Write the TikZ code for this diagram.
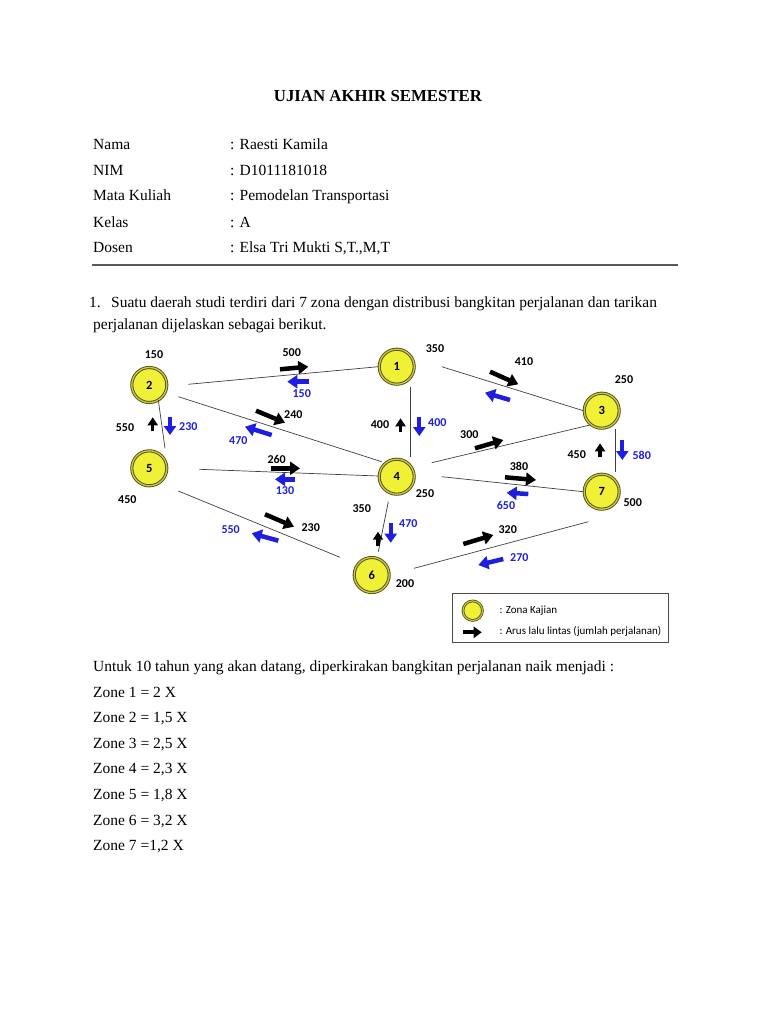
\documentclass[tikz,border=0pt]{standalone}
\usepackage{fontspec}
\setmainfont{Liberation Serif}
\newfontfamily\calib{Carlito}
\usetikzlibrary{arrows.meta}
\definecolor{zblue}{RGB}{30,30,225}
\definecolor{zyellow}{RGB}{240,240,55}
\definecolor{zring}{RGB}{80,80,25}
\definecolor{zband}{RGB}{200,200,70}
\begin{document}
\begin{tikzpicture}[x=1pt,y=-1pt,
  body/.style={anchor=base west, inner sep=0pt, font=\fontsize{15.5}{18}\selectfont},
  zone/.style={circle, fill=zyellow, draw=zring, line width=0.9pt, double=zband, double distance=1.3pt,
    minimum size=35pt, inner sep=0pt, font=\calib\bfseries\fontsize{12.5}{12}\selectfont},
  lnk/.style={line width=0.7pt, draw=black!75},
  num/.style={inner sep=0pt, font=\calib\bfseries\fontsize{12}{12}\selectfont},
  bnum/.style={num, text=zblue},
  karr/.style={line width=4.5pt, -{Triangle[length=10pt,width=13pt]}, draw=black},
  barr/.style={karr, draw=zblue},
  kup/.style={line width=3.5pt, -{Triangle[length=8pt,width=10pt]}, draw=black},
  bdown/.style={line width=4pt, -{Triangle[length=9pt,width=12pt]}, draw=zblue},
  leg/.style={anchor=west, inner sep=0pt, font=\calib\fontsize{11}{12}\selectfont}
]
\useasboundingbox[fill=white] (0,0) rectangle (768,1024);

% header
\node[body, anchor=base, font=\bfseries\fontsize{16.8}{19}\selectfont] (title) at (378,102) {UJIAN AKHIR SEMESTER};
\node[body] (l1) at (93,150) {Nama};
\node[body] (l2) at (93,176) {NIM};
\node[body] (l3) at (93,201) {Mata Kuliah};
\node[body] (l4) at (93,227) {Kelas};
\node[body] (l5) at (93,252) {Dosen};
\node[body] (v1) at (230,150) {: Raesti Kamila};
\node[body] (v2) at (230,176) {: D1011181018};
\node[body] (v3) at (230,201) {: Pemodelan Transportasi};
\node[body] (v4) at (230,227) {: A};
\node[body] (v5) at (230,252) {: Elsa Tri Mukti S,T.,M,T};
\coordinate (r1) at (92,265);
\coordinate (r2) at (678,265);
\draw[line width=2pt, black!65] (r1) -- (r2);

\node[body] (q1n) at (89,307) {1.};
\node[body] (q1a) at (111,307) {Suatu daerah studi terdiri dari 7 zona dengan distribusi bangkitan perjalanan dan tarikan};
\node[body] (q1b) at (93,329) {perjalanan dijelaskan sebagai berikut.};

% zones
\node[zone] (n1) at (396.7,366.7) {1};
\node[zone] (n2) at (149.3,385) {2};
\node[zone] (n3) at (601.7,410.7) {3};
\node[zone] (n4) at (396.7,476.7) {4};
\node[zone] (n5) at (149.3,468.3) {5};
\node[zone] (n6) at (371.7,575) {6};
\node[zone] (n7) at (601.7,491.7) {7};

% links
\draw[lnk] ([shift={(39,-0.7)}]n2.center) -- ([shift={(-18.4,0)}]n1.center);
\draw[lnk] ([shift={(29,11.7)}]n2.center) -- ([shift={(-15,-15)}]n4.center);
\draw[lnk] ([shift={(9,15)}]n2.center) -- ([shift={(15.7,-20)}]n5.center);
\draw[lnk] ([shift={(50,1)}]n5.center) -- ([shift={(-18.4,-0.7)}]n4.center);
\draw[lnk] ([shift={(13.3,20)}]n1.center) -- ([shift={(13.3,-20)}]n4.center);
\draw[lnk] ([shift={(45,0)}]n1.center) -- ([shift={(-18.4,0)}]n3.center);
\draw[lnk] ([shift={(35,-14)}]n4.center) -- ([shift={(-11.7,14.3)}]n3.center);
\draw[lnk] ([shift={(45,0)}]n4.center) -- ([shift={(-18.4,0)}]n7.center);
\draw[lnk] ([shift={(13.3,18.6)}]n3.center) -- ([shift={(13.3,-20)}]n7.center);
\draw[lnk] ([shift={(29,22.7)}]n5.center) -- ([shift={(-31.7,-17.7)}]n6.center);
\draw[lnk] ([shift={(-8.4,25)}]n4.center) -- ([shift={(6.6,-23.3)}]n6.center);
\draw[lnk] ([shift={(42.3,-6.7)}]n6.center) -- ([shift={(-13.4,30)}]n7.center);

% flow arrows
\draw[karr] (280,369.3) -- (308.3,366.7);
\draw[karr] (256,410.7) -- (285,422.7);
\draw[karr] (270.7,468.3) -- (300,468.3);
\draw[karr] (490,371.7) -- (518.3,384.3);
\draw[karr] (475,448.3) -- (503.3,440);
\draw[karr] (505,477.3) -- (536,480);
\draw[karr] (265,514.3) -- (294,526.7);
\draw[karr] (463.3,544) -- (493.3,535);
\draw[barr] (309.3,381.7) -- (287.3,381.7);
\draw[barr] (271.7,435) -- (245,426.7);
\draw[barr] (295,479.3) -- (275,479.3);
\draw[barr] (510,400) -- (485,392.7);
\draw[barr] (528.3,494) -- (506.7,492.7);
\draw[barr] (278.3,540.7) -- (251.7,533.3);
\draw[barr] (503.3,559) -- (478.3,565);
\draw[kup] (152.7,431) -- (152.7,417.3);
\draw[kup] (400.5,431.5) -- (400.5,418.3);
\draw[kup] (600,457.3) -- (600,443.3);
\draw[kup] (378,546) -- (378,531.7);
\draw[bdown] (170,416.7) -- (170,435);
\draw[bdown] (419.3,417.3) -- (419.3,436);
\draw[bdown] (622.3,440) -- (622.3,460);
\draw[bdown] (390.7,523.3) -- (390.7,542.7);

% numbers
\node[num] (t150) at (154,355) {150};
\node[num] (t500) at (291.7,352.7) {500};
\node[bnum] (t150b) at (301.7,393.3) {150};
\node[num] (t240) at (293.3,415) {240};
\node[bnum] (t470) at (238.3,440.7) {470};
\node[num] (t550) at (125,427.3) {550};
\node[bnum] (t230b) at (188.3,426.7) {230};
\node[num] (t260) at (276.7,459) {260};
\node[bnum] (t130) at (285,490.7) {130};
\node[num] (t400) at (380,425) {400};
\node[bnum] (t400b) at (437.3,422.7) {400};
\node[num] (t350) at (435,349) {350};
\node[num] (t410) at (524,361.7) {410};
\node[num] (t250) at (624,379.3) {250};
\node[num] (t300) at (469.3,435) {300};
\node[num] (t450) at (576.7,455) {450};
\node[bnum] (t580) at (641.7,455) {580};
\node[num] (t380) at (519,466) {380};
\node[bnum] (t650) at (506,505) {650};
\node[num] (t250b) at (425,493.3) {250};
\node[num] (t500b) at (632.7,502.7) {500};
\node[num] (t350b) at (361.7,508.3) {350};
\node[bnum] (t470b) at (408.3,524) {470};
\node[num] (t230) at (310.7,527.3) {230};
\node[bnum] (t550b) at (230.7,530) {550};
\node[num] (t450b) at (127.3,499.3) {450};
\node[num] (t320) at (507.7,530) {320};
\node[bnum] (t270) at (519.3,557.3) {270};
\node[num] (t200) at (405,583.3) {200};

% legend
\draw[line width=0.8pt, black!70] (452.7,593.3) rectangle (668.3,642.3);
\node[zone, minimum size=19.5pt, line width=0.8pt, double distance=1.1pt] (lz) at (472.7,610.7) {};
\draw[line width=4pt, -{Triangle[length=8pt,width=11pt]}] (462.7,632.3) -- (481.7,632.3);
\node[leg] (lt1) at (499.3,610.7) {: Zona Kajian};
\node[leg] (lt2) at (499.3,631.5) {: Arus lalu lintas (jumlah perjalanan)};

% bottom text
\node[body] (u0) at (93,671) {Untuk 10 tahun yang akan datang, diperkirakan bangkitan perjalanan naik menjadi :};
\node[body] (z1) at (93,697) {Zone 1 = 2 X};
\node[body] (z2) at (93,722) {Zone 2 = 1,5 X};
\node[body] (z3) at (93,748) {Zone 3 = 2,5 X};
\node[body] (z4) at (93,773) {Zone 4 = 2,3 X};
\node[body] (z5) at (93,799) {Zone 5 = 1,8 X};
\node[body] (z6) at (93,825) {Zone 6 = 3,2 X};
\node[body] (z7) at (93,850) {Zone 7 =1,2 X};
\end{tikzpicture}
\end{document}
